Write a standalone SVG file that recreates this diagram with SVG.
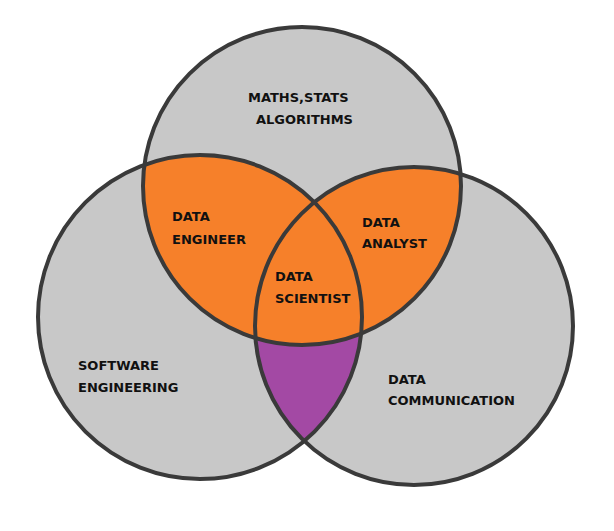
<svg xmlns="http://www.w3.org/2000/svg" width="614" height="531" viewBox="0 0 614 531">
<style>
.g{fill:#c8c8c8}
.o{fill:#f6802a}
.p{fill:#a349a4}
.s{fill:none;stroke:#3a3a3a;stroke-width:4}
text{font-family:"DejaVu Sans",sans-serif;font-weight:bold;font-size:13px;fill:#111}
</style>
<defs>
<clipPath id="cT"><circle cx="302" cy="186" r="159"/></clipPath>
<clipPath id="cL"><circle cx="200" cy="317" r="162"/></clipPath>
<clipPath id="cR"><circle cx="414" cy="326" r="159"/></clipPath>
</defs>
<rect width="614" height="531" fill="#fff"/>
<g id="fills">
<circle class="g" cx="302" cy="186" r="159"/>
<circle class="g" cx="200" cy="317" r="162"/>
<circle class="g" cx="414" cy="326" r="159"/>
<circle class="p" cx="200" cy="317" r="162" clip-path="url(#cR)"/>
<circle class="o" cx="302" cy="186" r="159" clip-path="url(#cL)"/>
<circle class="o" cx="302" cy="186" r="159" clip-path="url(#cR)"/>
</g>
<g id="top"><circle class="s" cx="302" cy="186" r="159"/><text x="248" y="102">MATHS,STATS</text><text x="256" y="124">ALGORITHMS</text></g>
<g id="left"><circle class="s" cx="200" cy="317" r="162"/><text x="78" y="370">SOFTWARE</text><text x="78" y="392">ENGINEERING</text></g>
<g id="right"><circle class="s" cx="414" cy="326" r="159"/><text x="388" y="384">DATA</text><text x="388" y="405">COMMUNICATION</text></g>
<g id="engineer"><text x="172" y="221">DATA</text><text x="172" y="244">ENGINEER</text></g>
<g id="analyst"><text x="362" y="227">DATA</text><text x="362" y="248">ANALYST</text></g>
<g id="scientist"><text x="275" y="281">DATA</text><text x="275" y="303">SCIENTIST</text></g>
</svg>
